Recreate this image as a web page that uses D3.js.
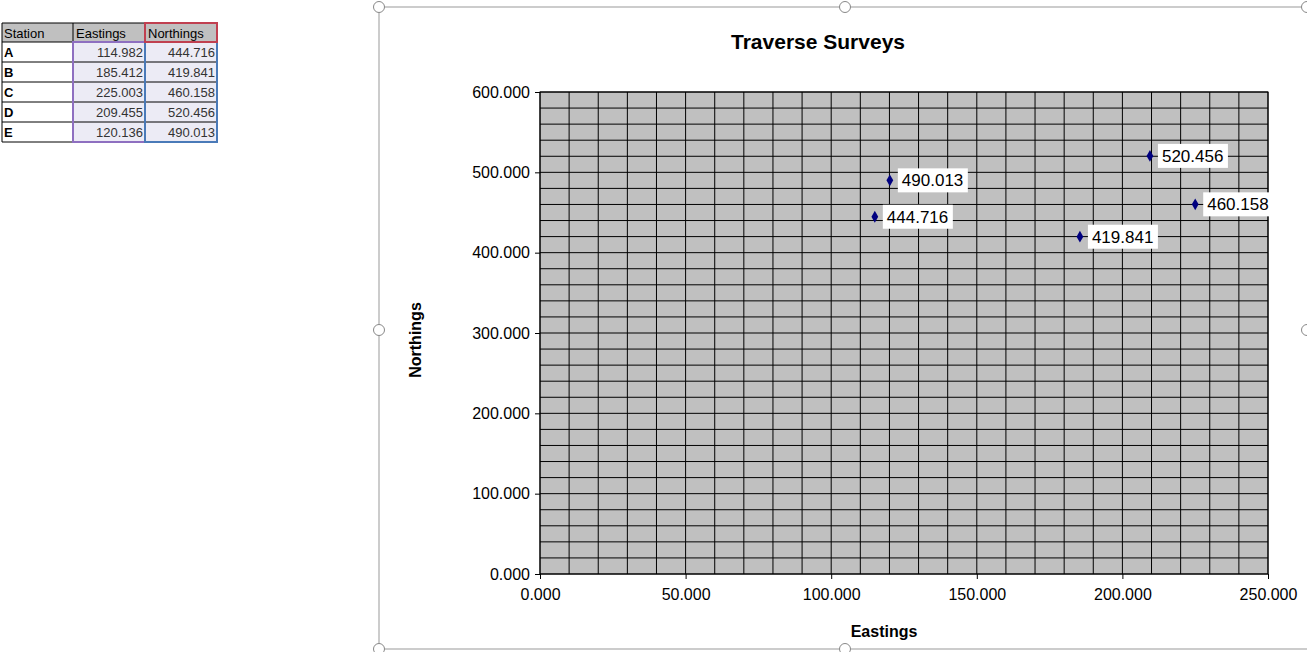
<!DOCTYPE html>
<html><head><meta charset="utf-8">
<script src="https://cdn.jsdelivr.net/npm/d3@7"></script>
<style>body{margin:0;background:#fff;font-family:Arial,"Liberation Sans",sans-serif}</style>
</head><body><div id="chart"></div>
<script>
var stations = ["A","B","C","D","E"];
var eastings = [114.982,185.412,225.003,209.455,120.136];
var northings = [444.716,419.841,460.158,520.456,490.013];
var xTicks = [0,50,100,150,200,250];
var yTicks = [0,100,200,300,400,500,600];

var svg = d3.select("#chart").append("svg").attr("width",1307).attr("height",652);

// faint sheet gridlines
for (var gx of [2,73,145,217,1307]) {}
// table
var cols = [2,73,145,217], rowY = [23,42,62,82,102,122,142];
var tbl = svg.append("g").attr("font-size",13);
tbl.append("rect").attr("x",2).attr("y",23).attr("width",215).attr("height",19).attr("fill","#c0c0c0");
tbl.append("rect").attr("x",73).attr("y",42).attr("width",144).attr("height",100).attr("fill","#ecebf5");
rowY.forEach(function(y){ tbl.append("line").attr("x1",2).attr("x2",217).attr("y1",y).attr("y2",y).attr("stroke","#000"); });
cols.forEach(function(x){ tbl.append("line").attr("x1",x).attr("x2",x).attr("y1",23).attr("y2",142).attr("stroke","#000"); });
tbl.append("rect").attr("x",73).attr("y",42).attr("width",72).attr("height",100).attr("fill","none").attr("stroke","#8e6fc0").attr("stroke-width",2);
tbl.append("rect").attr("x",145).attr("y",42).attr("width",72).attr("height",100).attr("fill","none").attr("stroke","#4a7ab8").attr("stroke-width",2);
tbl.append("rect").attr("x",145).attr("y",23).attr("width",72).attr("height",19).attr("fill","none").attr("stroke","#c04050").attr("stroke-width",2);
[["Station",4],["Eastings",76],["Northings",148]].forEach(function(h){
  tbl.append("text").attr("x",h[1]).attr("y",38).text(h[0]);
});
stations.forEach(function(s,i){
  var y = rowY[i+1]+15;
  tbl.append("text").attr("x",4).attr("y",y).attr("font-weight","bold").text(s);
  tbl.append("text").attr("x",143).attr("y",y).attr("text-anchor","end").attr("fill","#333").text(eastings[i].toFixed(3));
  tbl.append("text").attr("x",215).attr("y",y).attr("text-anchor","end").attr("fill","#333").text(northings[i].toFixed(3));
});

// chart frame
svg.append("rect").attr("x",379).attr("y",7).attr("width",940).attr("height",642).attr("fill","#fff").attr("stroke","#999");
[[379,7],[845,7],[379,330],[1307,330],[379,649],[845,649],[1307,7]].forEach(function(p){
  svg.append("circle").attr("cx",p[0]).attr("cy",p[1]).attr("r",5.5).attr("fill","#fff").attr("stroke","#888");
});

var L=540,R=1268,T=92,B=574;
var x = d3.scaleLinear().domain([0,250]).range([L,R]);
var y = d3.scaleLinear().domain([0,600]).range([B,T]);

svg.append("rect").attr("x",L).attr("y",T).attr("width",R-L).attr("height",B-T).attr("fill","#c0c0c0");
var g = svg.append("g");
g.selectAll(".vx").data(d3.range(0,251,10)).enter().append("line")
  .attr("x1",d=>x(d)).attr("x2",d=>x(d)).attr("y1",T).attr("y2",B).attr("stroke","#000");
g.selectAll(".hy").data(d3.range(0,601,20)).enter().append("line")
  .attr("y1",d=>y(d)).attr("y2",d=>y(d)).attr("x1",L).attr("x2",R).attr("stroke","#000");
svg.append("rect").attr("x",L).attr("y",T).attr("width",R-L).attr("height",B-T).attr("fill","none").attr("stroke","#000");

var xa = svg.append("g").attr("transform","translate(0,"+B+")")
  .call(d3.axisBottom(x).tickValues(xTicks).tickFormat(d3.format(".3f")).tickSize(5).tickSizeOuter(0));
var ya = svg.append("g").attr("transform","translate("+L+",0)")
  .call(d3.axisLeft(y).tickValues(yTicks).tickFormat(d3.format(".3f")).tickSize(5).tickSizeOuter(0));
[xa,ya].forEach(function(a){
  a.select(".domain").remove();
  a.selectAll("line").attr("stroke","#000");
  a.selectAll("text").attr("font-size",16).attr("font-family","Arial,'Liberation Sans',sans-serif").attr("fill","#000");
});
xa.selectAll("text").attr("dy","1.1em");
ya.selectAll("text").attr("dx","-2");

svg.append("text").attr("x",818).attr("y",49).attr("text-anchor","middle").attr("font-size",21).attr("font-weight","bold").text("Traverse Surveys");
svg.append("text").attr("x",884).attr("y",637).attr("text-anchor","middle").attr("font-size",16).attr("font-weight","bold").text("Eastings");
svg.append("text").attr("transform","translate(421,340) rotate(-90)").attr("text-anchor","middle").attr("font-size",16).attr("font-weight","bold").text("Northings");

var pts = eastings.map(function(e,i){return {e:e,n:northings[i]};});
var lab = svg.append("g").selectAll("g").data(pts).enter().append("g")
  .attr("transform",d=>"translate("+x(d.e)+","+y(d.n)+")");
lab.append("rect").attr("x",8).attr("y",-12).attr("width",70).attr("height",24).attr("fill","#fff");
lab.append("text").attr("x",12).attr("y",6).attr("font-size",17).text(d=>d.n.toFixed(3));
lab.append("path").attr("d",d3.symbol(d3.symbolDiamond,40)).attr("fill","#000080");
</script></body></html>
